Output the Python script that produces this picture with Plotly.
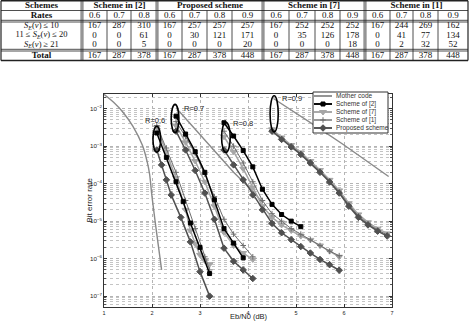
import plotly.graph_objects as go

# ---------------------------------------------------------------- table data
scheme_groups = ["Scheme in [2]", "Proposed scheme", "Scheme in [7]", "Scheme in [1]"]
rates_per_group = [["0.6", "0.7", "0.8"],
                   ["0.6", "0.7", "0.8", "0.9"],
                   ["0.6", "0.7", "0.8", "0.9"],
                   ["0.6", "0.7", "0.8", "0.9"]]
row_labels = ["<i>S<sub>E</sub></i>(<i>v</i>) ≤ 10",
              "11 ≤ <i>S<sub>E</sub></i>(<i>v</i>) ≤ 20",
              "<i>S<sub>E</sub></i>(<i>v</i>) ≥ 21"]
row_le10 = [167, 287, 310, 167, 257, 257, 257, 167, 252, 252, 252, 167, 244, 269, 162]
row_11_20 = [0, 0, 61, 0, 30, 121, 171, 0, 35, 126, 178, 0, 41, 77, 134]
row_ge21 = [0, 0, 5, 0, 0, 0, 20, 0, 0, 0, 18, 0, 2, 32, 52]
row_total = [167, 287, 378, 167, 287, 378, 448, 167, 287, 378, 448, 167, 287, 378, 448]

# ---------------------------------------------------------------- BER curves
mother_ebn0 = [1.0, 1.2, 1.4, 1.6, 1.8, 1.9, 1.95, 2.0, 2.1, 2.2]
mother_ber = [2.4e-2, 1.48e-2, 7.9e-3, 3.4e-3, 1.05e-3, 3.8e-4, 1.78e-4, 4.5e-5, 4.5e-6, 5.0e-7]

# rate 0.6
s2_r06_ebn0 = [2.1, 2.3, 2.5, 2.65, 2.8, 3.0, 3.2]
s2_r06_ber = [2.24e-3, 5.0e-4, 1.12e-4, 3.3e-5, 8.9e-6, 2.0e-6, 4.0e-7]
pr_r06_ebn0 = [2.1, 2.2, 2.3, 2.4, 2.6, 2.8, 3.0, 3.2]
pr_r06_ber = [7.9e-4, 3.16e-4, 1.26e-4, 5.0e-5, 1.26e-5, 2.8e-6, 4.5e-7, 1.0e-7]
s7_r06_ebn0 = [2.1, 2.3, 2.5, 2.7, 2.8, 2.9, 3.0, 3.1, 3.2]
s7_r06_ber = [3.16e-3, 7.1e-4, 1.41e-4, 2.0e-5, 5.6e-6, 2.5e-6, 1.26e-6, 8.9e-7, 7.1e-7]
s1_r06_ebn0 = [2.1, 2.3, 2.5, 2.7, 2.9, 3.1, 3.2]
s1_r06_ber = [3.55e-3, 8.9e-4, 2.0e-4, 3.55e-5, 6.3e-6, 1.12e-6, 5.0e-7]

# rate 0.7
s2_r07_ebn0 = [2.5, 2.7, 2.9, 3.1, 3.3, 3.5, 3.7, 3.9]
s2_r07_ber = [6.3e-3, 2.1e-3, 7.1e-4, 2.0e-4, 3.7e-5, 6.3e-6, 2.6e-6, 1.05e-6]
pr_r07_ebn0 = [2.5, 2.7, 2.9, 3.1, 3.3, 3.5, 3.7, 3.9, 4.1]
pr_r07_ber = [2.5e-3, 7.9e-4, 2.24e-4, 5.6e-5, 1.12e-5, 1.9e-6, 8.5e-7, 5.0e-7, 2.95e-7]
s7_r07_ebn0 = [2.5, 2.7, 2.9, 3.1, 3.3, 3.5, 3.7, 3.9, 4.1]
s7_r07_ber = [3.55e-3, 1.26e-3, 4.0e-4, 1.12e-4, 2.5e-5, 5.0e-6, 2.24e-6, 1.41e-6, 9.5e-7]
s1_r07_ebn0 = [2.5, 2.7, 2.9, 3.1, 3.3, 3.5, 3.7, 3.9, 4.1]
s1_r07_ber = [4.5e-3, 1.78e-3, 6.3e-4, 1.78e-4, 4.5e-5, 1.12e-5, 4.5e-6, 2.24e-6, 1.12e-6]
mc_r07_ebn0 = [2.5, 2.9, 3.3, 3.7, 4.1, 4.3]
mc_r07_ber = [1.05e-2, 2.8e-3, 7.9e-4, 2.0e-4, 6.3e-5, 3.2e-5]

# rate 0.8
s2_r08_ebn0 = [3.5, 3.7, 3.9, 4.1, 4.3, 4.5, 4.7, 4.9, 5.1]
s2_r08_ber = [4.2e-3, 1.86e-3, 7.6e-4, 2.8e-4, 7.1e-5, 2.8e-5, 1.5e-5, 1.0e-5, 7.1e-6]
pr_r08_ebn0 = [3.5, 3.7, 3.9, 4.1, 4.3, 4.5, 4.7, 4.9, 5.1, 5.3, 5.5, 5.7, 5.9]
pr_r08_ber = [7.9e-4, 3.16e-4, 1.26e-4, 5.0e-5, 2.0e-5, 8.7e-6, 4.9e-6, 3.2e-6, 2.1e-6,
              1.41e-6, 9.5e-7, 6.9e-7, 4.9e-7]
s7_r08_ebn0 = [3.5, 3.7, 3.9, 4.1, 4.3, 4.5, 4.7, 4.9, 5.1, 5.3, 5.5, 5.7, 5.9]
s7_r08_ber = [1.78e-3, 7.1e-4, 2.5e-4, 7.9e-5, 2.5e-5, 1.26e-5, 7.9e-6, 5.6e-6, 4.0e-6,
              3.16e-6, 2.24e-6, 1.58e-6, 1.12e-6]
s1_r08_ebn0 = [3.5, 3.7, 3.9, 4.1, 4.3, 4.5, 4.7, 4.9, 5.1, 5.3, 5.5, 5.7, 5.9]
s1_r08_ber = [2.5e-3, 1.0e-3, 3.55e-4, 1.12e-4, 3.55e-5, 1.58e-5, 1.0e-5, 6.3e-6, 4.5e-6,
              3.16e-6, 2.24e-6, 1.58e-6, 1.2e-6]

# rate 0.9
mc_r09_ebn0 = [4.53, 5.0, 5.5, 6.0, 6.5, 6.93]
mc_r09_ber = [1.86e-2, 7.6e-3, 2.9e-3, 1.07e-3, 3.9e-4, 1.55e-4]
pr_r09_ebn0 = [4.5, 4.7, 4.9, 5.1, 5.3, 5.5, 5.7, 5.9, 6.1, 6.3, 6.5, 6.7, 6.9]
pr_r09_ber = [2.5e-3, 1.51e-3, 9.5e-4, 6.0e-4, 3.55e-4, 2.0e-4, 1.1e-4, 5.6e-5, 2.5e-5,
              1.26e-5, 7.9e-6, 5.4e-6, 4.0e-6]
s7_r09_ebn0 = [4.5, 4.7, 4.9, 5.1, 5.3, 5.5, 5.7, 5.9, 6.1, 6.3, 6.5, 6.7, 6.9]
s7_r09_ber = [2.8e-3, 1.7e-3, 1.07e-3, 6.8e-4, 4.0e-4, 2.3e-4, 1.26e-4, 6.6e-5, 3.0e-5,
              1.51e-5, 9.3e-6, 6.3e-6, 4.7e-6]
s1_r09_ebn0 = [4.5, 4.7, 4.9, 5.1, 5.3, 5.5, 5.7, 5.9, 6.1, 6.3, 6.5, 6.7, 6.9]
s1_r09_ber = [2.6e-3, 1.58e-3, 1.0e-3, 6.3e-4, 3.7e-4, 2.14e-4, 1.17e-4, 6.0e-5, 2.75e-5,
              1.38e-5, 8.5e-6, 5.75e-6, 4.3e-6]

legend_labels = ["Mother code", "Scheme of [2]", "Scheme of [7]", "Scheme of [1]", "Proposed scheme"]
rate_labels = ["R=0.6", "R=0.7", "R=0.8", "R=0.9"]

# ---------------------------------------------------------------- styles / layout
W, H = 474, 325
PL, PR, PT, PB = 104, 392, 94, 307          # plot frame (px)
SANS = "Liberation Sans"
SERIF = "Liberation Serif"

STY = {
    "mc": dict(color="#8a8a8a", width=1.4, symbol=None, msize=0),
    "s2": dict(color="#000000", width=1.5, symbol="square", msize=4),
    "s7": dict(color="#a6a6a6", width=1.5, symbol="triangle-down", msize=6),
    "s1": dict(color="#6e6e6e", width=1.0, symbol="cross-thin", msize=4),
    "pr": dict(color="#505050", width=1.5, symbol="diamond", msize=5),
}


def curve(x, y, key, spline=False):
    s = STY[key]
    mode = "lines+markers" if s["symbol"] else "lines"
    marker = dict(symbol=s["symbol"], size=s["msize"], color=s["color"],
                  line=dict(color=s["color"], width=1)) if s["symbol"] else None
    return go.Scatter(x=x, y=y, mode=mode, xaxis="x", yaxis="y",
                      line=dict(color=s["color"], width=s["width"],
                                shape="spline" if spline else "linear"),
                      marker=marker, showlegend=False, hoverinfo="skip")


fig = go.Figure()
fig.add_trace(curve(mother_ebn0, mother_ber, "mc", spline=True))
fig.add_trace(curve(mc_r07_ebn0, mc_r07_ber, "mc"))
fig.add_trace(curve(mc_r09_ebn0, mc_r09_ber, "mc"))
for x, y, k in [(s7_r06_ebn0, s7_r06_ber, "s7"), (s1_r06_ebn0, s1_r06_ber, "s1"),
                (pr_r06_ebn0, pr_r06_ber, "pr"), (s2_r06_ebn0, s2_r06_ber, "s2"),
                (s7_r07_ebn0, s7_r07_ber, "s7"), (s1_r07_ebn0, s1_r07_ber, "s1"),
                (pr_r07_ebn0, pr_r07_ber, "pr"), (s2_r07_ebn0, s2_r07_ber, "s2"),
                (s7_r08_ebn0, s7_r08_ber, "s7"), (s1_r08_ebn0, s1_r08_ber, "s1"),
                (pr_r08_ebn0, pr_r08_ber, "pr"), (s2_r08_ebn0, s2_r08_ber, "s2"),
                (s7_r09_ebn0, s7_r09_ber, "s7"), (s1_r09_ebn0, s1_r09_ber, "s1"),
                (pr_r09_ebn0, pr_r09_ber, "pr")]:
    fig.add_trace(curve(x, y, k))

# ellipses around each rate group: (x0, x1, ber_low, ber_high)
ellipses = [(2.02, 2.18, 6.9e-4, 3.4e-3),
            (2.40, 2.56, 2.3e-3, 1.3e-2),
            (3.45, 3.63, 6.8e-4, 4.3e-3),
            (4.46, 4.63, 2.4e-3, 2.2e-2)]
label_pos = [(2.06, -2.31), (2.88, -2.01), (3.89, -2.41), (4.91, -1.73)]
shapes = []
annotations = []
for (x0, x1, y0, y1) in ellipses:
    shapes.append(dict(type="circle", xref="x", yref="y", x0=x0, x1=x1, y0=y0, y1=y1,
                       line=dict(color="black", width=1.6)))
for txt, (lx, ly) in zip(rate_labels, label_pos):
    annotations.append(dict(text=txt, x=lx, y=ly, xref="x", yref="y", showarrow=False,
                            font=dict(family=SANS, size=7.5, color="#222")))

# axis titles
annotations.append(dict(text="Bit error rate", x=82 / W, y=1 - 200 / H, xref="paper", yref="paper",
                        textangle=-90, showarrow=False, font=dict(family=SANS, size=8, color="#222")))
annotations.append(dict(text="Eb/N0 (dB)", x=249 / W, y=1 - 321.5 / H, xref="paper", yref="paper",
                        showarrow=False, borderpad=0, font=dict(family=SANS, size=7.5, color="#222")))

# ---------------------------------------------------------------- legend (pixel overlay x2/y2)
LG_X0, LG_X1, LG_Y0, LG_Y1 = 313, 388, 92, 133
lg_rows = [96, 104, 112, 120, 128]
fig.add_trace(go.Scatter(x=[LG_X0, LG_X1, LG_X1, LG_X0, LG_X0], y=[LG_Y0, LG_Y0, LG_Y1, LG_Y1, LG_Y0],
                         mode="lines", fill="toself", fillcolor="white",
                         line=dict(color="#333", width=1), xaxis="x2", yaxis="y2",
                         showlegend=False, hoverinfo="skip"))
for key, lab, yy in zip(["mc", "s2", "s7", "s1", "pr"], legend_labels, lg_rows):
    s = STY[key]
    fig.add_trace(go.Scatter(x=[LG_X0 + 1, LG_X0 + 19], y=[yy, yy], mode="lines",
                             line=dict(color=s["color"], width=s["width"] + 0.4),
                             xaxis="x2", yaxis="y2", showlegend=False, hoverinfo="skip"))
    if s["symbol"]:
        fig.add_trace(go.Scatter(x=[LG_X0 + 10], y=[yy], mode="markers",
                                 marker=dict(symbol=s["symbol"], size=s["msize"], color=s["color"],
                                             line=dict(color=s["color"], width=1)),
                                 xaxis="x2", yaxis="y2", showlegend=False, hoverinfo="skip"))
    annotations.append(dict(text=lab, x=(LG_X0 + 21) / W, y=1 - yy / H, xref="paper", yref="paper",
                            xanchor="left", yanchor="middle", showarrow=False,
                            font=dict(family=SANS, size=6.5, color="#333")))

# ---------------------------------------------------------------- table (pixel overlay x2/y2)
TX = [1, 82, 107, 131, 157, 182, 207, 232, 263, 289, 315, 340, 365, 390, 413, 438, 468]
TY_TEXT = [5.5, 15.5, 26, 35.3, 44.5, 55.3]
group_start = [1, 4, 8, 12]
cc = [(TX[i] + TX[i + 1]) / 2 for i in range(len(TX) - 1)]

tx, ty, tt = [], [], []
tx.append(cc[0]); ty.append(TY_TEXT[0]); tt.append("<b>Schemes</b>")
tx.append(cc[0]); ty.append(TY_TEXT[1]); tt.append("<b>Rates</b>")
for g, name in enumerate(scheme_groups):
    a = group_start[g]
    b = a + len(rates_per_group[g])
    tx.append((TX[a] + TX[b]) / 2); ty.append(TY_TEXT[0]); tt.append("<b>" + name + "</b>")
    for j, r in enumerate(rates_per_group[g]):
        tx.append(cc[a + j]); ty.append(TY_TEXT[1]); tt.append(r)
tx.append(cc[0]); ty.append(TY_TEXT[5]); tt.append("<b>Total</b>")
for i, row in enumerate([row_le10, row_11_20, row_ge21, row_total]):
    for j, v in enumerate(row):
        tx.append(cc[1 + j]); ty.append(TY_TEXT[2 + i]); tt.append(str(v))
fig.add_trace(go.Scatter(x=tx, y=ty, text=tt, mode="text", textposition="middle center",
                         textfont=dict(family=SERIF, size=9, color="#111"),
                         xaxis="x2", yaxis="y2", showlegend=False, hoverinfo="skip"))
fig.add_trace(go.Scatter(x=[cc[0]] * 3, y=TY_TEXT[2:5], text=row_labels, mode="text",
                         textposition="middle center",
                         textfont=dict(family=SERIF, size=8.5, color="#111"),
                         xaxis="x2", yaxis="y2", showlegend=False, hoverinfo="skip"))


def tline(x0, y0, x1, y1, w=0.8):
    shapes.append(dict(type="line", xref="x2", yref="y2", x0=x0, y0=y0, x1=x1, y1=y1,
                       line=dict(color="#222", width=w)))


# horizontal rules
tline(TX[0], 0.8, TX[-1], 0.8, 1.6)
tline(TX[0], 10.5, TX[-1], 10.5)
tline(TX[0], 20.3, TX[-1], 20.3)
tline(TX[0], 22.0, TX[-1], 22.0)
tline(TX[0], 49.3, TX[-1], 49.3)
tline(TX[0], 51.0, TX[-1], 51.0)
tline(TX[0], 60.5, TX[-1], 60.5, 1.6)
# vertical rules
tline(TX[0], 0.8, TX[0], 60.5, 1.2)
tline(TX[-1], 0.8, TX[-1], 60.5, 1.2)
for xs in [TX[1], TX[4], TX[8], TX[12]]:
    tline(xs - 0.9, 0.8, xs - 0.9, 60.5)
    tline(xs + 0.9, 0.8, xs + 0.9, 60.5)
for k in [2, 3, 5, 6, 7, 9, 10, 11, 13, 14, 15]:
    tline(TX[k], 10.5, TX[k], 60.5)

# ---------------------------------------------------------------- layout
grid = dict(showgrid=True, gridcolor="#b4b4b4", griddash="dot", gridwidth=1)
fig.update_layout(
    width=W, height=H, margin=dict(l=0, r=0, t=0, b=0),
    paper_bgcolor="white", plot_bgcolor="rgba(0,0,0,0)",
    showlegend=False, shapes=shapes, annotations=annotations,
    xaxis=dict(domain=[PL / W, PR / W], range=[1, 7], dtick=1, anchor="y",
               showline=True, mirror="ticks", linecolor="#333", linewidth=1,
               ticks="inside", ticklen=3, tickcolor="#333", zeroline=False,
               tickfont=dict(family=SANS, size=5.5, color="#222"), automargin=False, **grid),
    yaxis=dict(domain=[1 - PB / H, 1 - PT / H], type="log", range=[-7.29, -1.61], dtick=1,
               anchor="x", showline=True, mirror="ticks", linecolor="#333", linewidth=1,
               ticks="inside", ticklen=3, tickcolor="#333", exponentformat="power",
               tickfont=dict(family=SANS, size=5, color="#222"), automargin=False,
               minor=dict(dtick="D1", showgrid=True, gridcolor="#c4c4c4", griddash="dot",
                          ticks="inside", ticklen=2, tickcolor="#555"),
               **grid),
    xaxis2=dict(domain=[0, 1], range=[0, W], visible=False, anchor="y2", fixedrange=True),
    yaxis2=dict(domain=[0, 1], range=[H, 0], visible=False, anchor="x2", fixedrange=True),
)

fig.write_html("out.html")
